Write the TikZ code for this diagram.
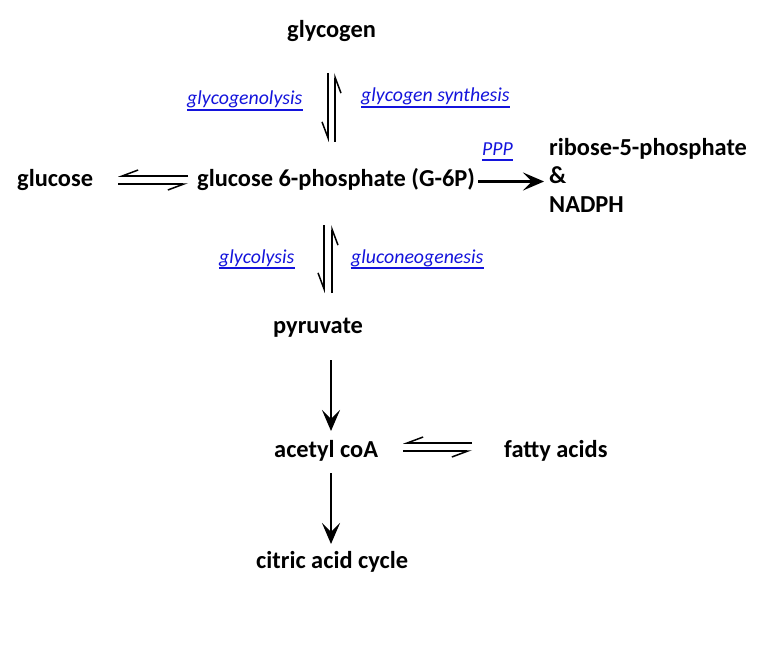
\documentclass[tikz,border=0pt]{standalone}
\usepackage{fontspec}
\setmainfont{Carlito}
\usetikzlibrary{arrows.meta}
\definecolor{linkblue}{RGB}{20,20,220}
\begin{document}
\begin{tikzpicture}[x=1pt,y=-1pt,
  lbl/.style={font=\fontsize{24.4}{28}\selectfont\bfseries, inner sep=0pt, anchor=base west},
  lnk/.style={font=\fontsize{19.8}{22}\selectfont\itshape, text=linkblue, inner sep=0pt, anchor=base west},
  uline/.style={draw=linkblue, line width=1.1pt},
  harp/.style={line width=1.9pt, -{Straight Barb[harpoon,swap,length=16pt,width=12pt,line width=1.5pt]}},
  fwd/.style={line width=2.5pt, -{Stealth[length=21pt,width=18pt,inset=9pt]}},
]
\fill[white] (0,0) rectangle (768,658);
\useasboundingbox (0,0) rectangle (768,658);

% main labels
\node[lbl] (glycogen) at (287,38) {glycogen};
\node[lbl] (glucose) at (17,186) {glucose};
\node[lbl] (g6p) at (197,186) {glucose 6-phosphate (G-6P)};
\node[lbl] (rib1) at (549,155) {ribose-5-phosphate};
\node[lbl] (rib2) at (549,183.5) {\&};
\node[lbl] (rib3) at (549,212) {NADPH};
\node[lbl] (pyr) at (273,333) {pyruvate};
\node[lbl] (acoa) at (274,457) {acetyl coA};
\node[lbl] (fatty) at (504,457) {fatty acids};
\node[lbl] (cac) at (256,568) {citric acid cycle};

% link labels
\node[lnk] (lglyc) at (187,105) {glycogenolysis};
\node[lnk] (lsyn) at (361,102) {glycogen synthesis};
\node[lnk] (lppp) at (482,155) {PPP};
\node[lnk] (lgly) at (219,263) {glycolysis};
\node[lnk] (lgng) at (351,263) {gluconeogenesis};
\foreach \n in {lglyc,lsyn,lppp,lgly,lgng}
  \draw[uline] ([yshift=-5pt]\n.base west) -- ([yshift=-5pt]\n.base east);

% coordinates for connectors
\coordinate (v1a) at (328,73);  \coordinate (v1b) at (328,142);
\coordinate (v1c) at (335,142); \coordinate (v1d) at (335,73);
\coordinate (v2a) at (324,225); \coordinate (v2b) at (324,293);
\coordinate (v2c) at (332,293); \coordinate (v2d) at (332,225);
\coordinate (h1a) at (188,176); \coordinate (h1b) at (118,176);
\coordinate (h1c) at (118,184); \coordinate (h1d) at (188,184);
\coordinate (h2a) at (472,443); \coordinate (h2b) at (403,443);
\coordinate (h2c) at (403,451); \coordinate (h2d) at (472,451);
\coordinate (d1a) at (331,360); \coordinate (d1b) at (331,431);
\coordinate (d2a) at (331,473); \coordinate (d2b) at (331,544);

% equilibria
\draw[harp] (v1a) -- (v1b);
\draw[harp] (v1c) -- (v1d);
\draw[harp] (v2a) -- (v2b);
\draw[harp] (v2c) -- (v2d);
\draw[harp] (h1a) -- (h1b);
\draw[harp] (h1c) -- (h1d);
\draw[harp] (h2a) -- (h2b);
\draw[harp] (h2c) -- (h2d);

% single arrows
\draw[fwd] ([xshift=3pt,yshift=4.5pt]g6p.base east) -- ([xshift=-5pt,yshift=2pt]rib2.base west);
\draw[fwd] (d1a) -- (d1b);
\draw[fwd] (d2a) -- (d2b);
\end{tikzpicture}
\end{document}
